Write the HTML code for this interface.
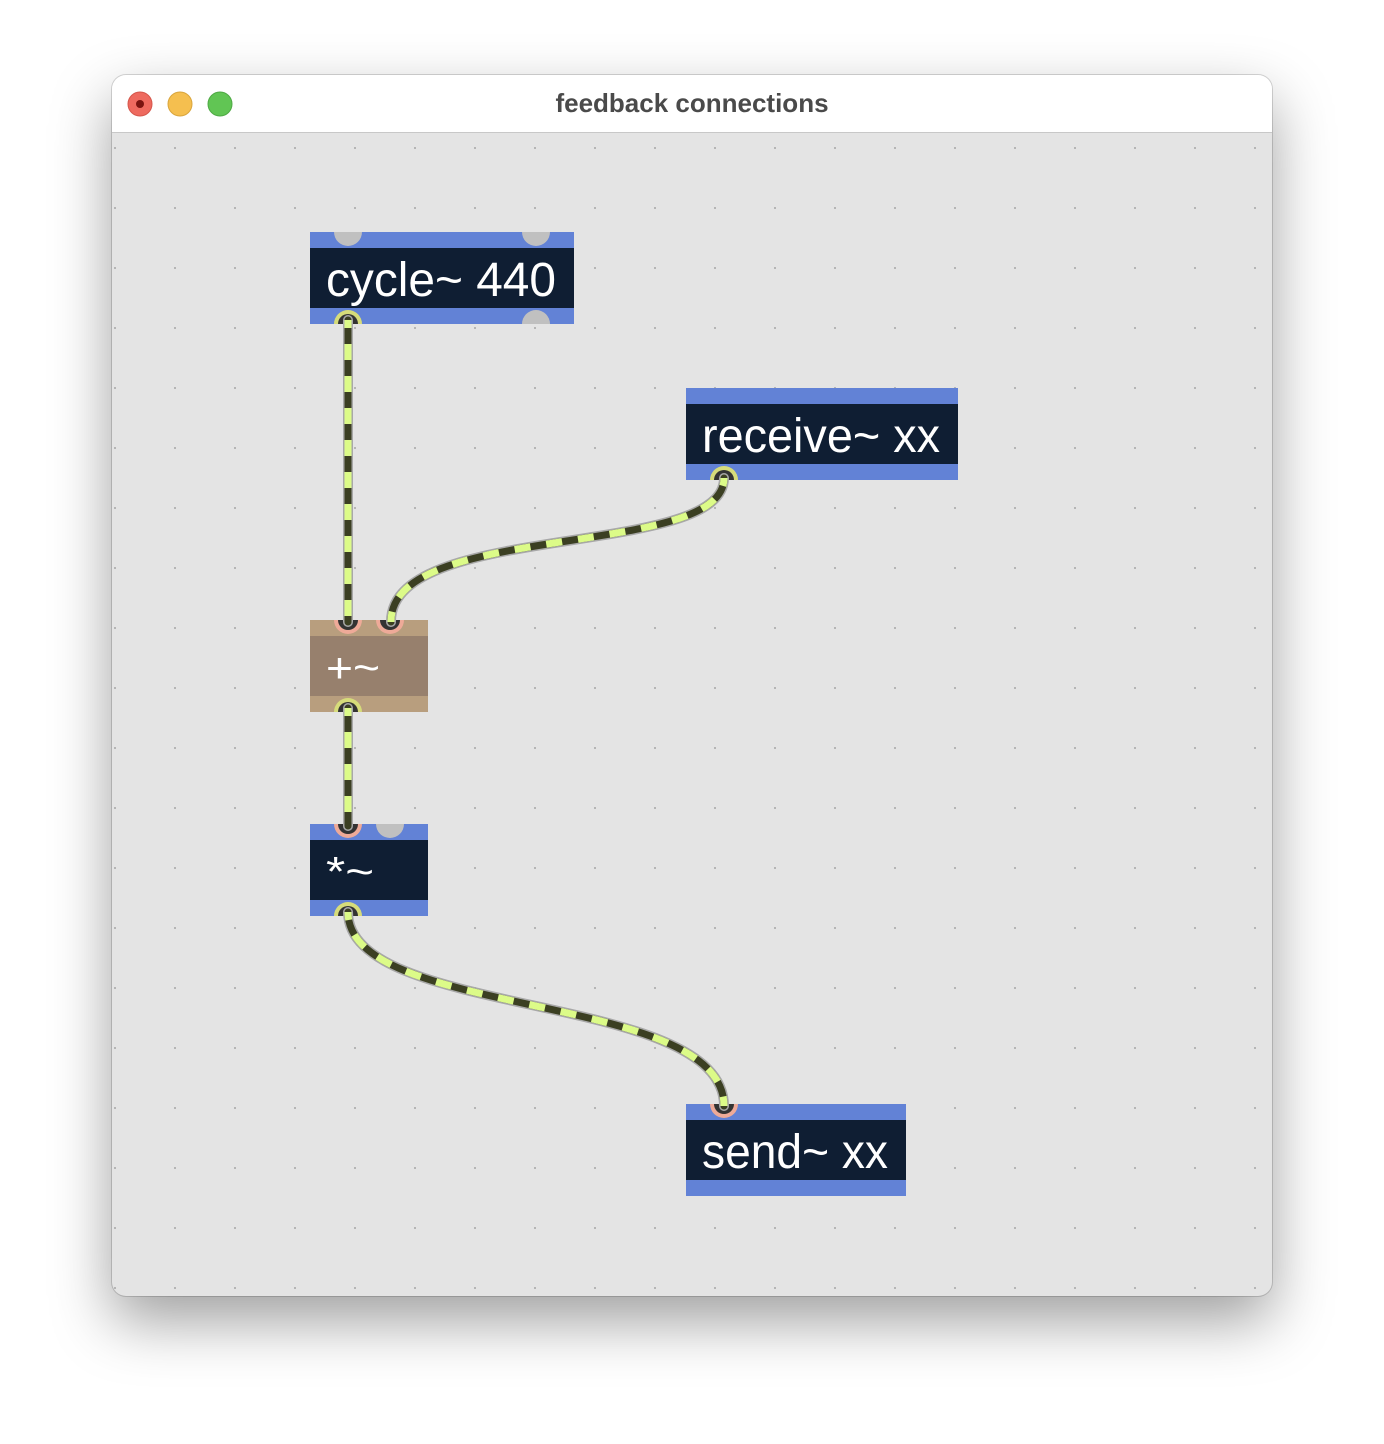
<!DOCTYPE html>
<html><head><style>
html,body{margin:0;padding:0;background:#fff;}
body{width:1384px;height:1444px;position:relative;overflow:hidden;font-family:"Liberation Sans",sans-serif;}
.win{position:absolute;left:112px;top:75px;width:1160px;height:1221px;border-radius:14px;overflow:hidden;background:#e4e4e4;box-shadow:0 25px 60px rgba(0,0,0,0.38),0 0 0 1px rgba(0,0,0,0.15);}
.title{position:absolute;left:0;top:0;width:100%;height:57px;background:#fff;border-bottom:1px solid #c8c8c8;text-align:center;line-height:56px;font-weight:bold;font-size:26px;color:#4a4a4a;}
</style></head><body>
<div class="win"><div class="title">feedback connections</div></div>
<svg width="1384" height="1444" style="position:absolute;left:0;top:0">
<defs>
<pattern id="g" x="114" y="147" width="60" height="60" patternUnits="userSpaceOnUse"><rect width="2" height="2" fill="#b5b5b5"/></pattern>
<clipPath id="c"><rect x="112" y="134" width="1160" height="1162"/></clipPath>
</defs>
<rect x="112" y="134" width="1160" height="1160" fill="url(#g)"/>
<circle cx="140" cy="104" r="12" fill="#ee6a5f" stroke="#d5564b"/><circle cx="140" cy="104" r="4" fill="#7a1410"/>
<circle cx="180" cy="104" r="12" fill="#f5bf4f" stroke="#d9a53c"/>
<circle cx="220" cy="104" r="12" fill="#61c554" stroke="#4ea944"/>
<g clip-path="url(#c)">
<rect x="310" y="232" width="264" height="92" fill="#6282d6"/>
<rect x="310" y="248" width="264" height="60" fill="#0f1e33"/>
<text x="326" y="296" font-size="48" fill="#fff" textLength="230" lengthAdjust="spacingAndGlyphs">cycle~ 440</text>
<rect x="686" y="388" width="272" height="92" fill="#6282d6"/>
<rect x="686" y="404" width="272" height="60" fill="#0f1e33"/>
<text x="702" y="452" font-size="48" fill="#fff" textLength="238" lengthAdjust="spacingAndGlyphs">receive~ xx</text>
<rect x="310" y="620" width="118" height="92" fill="#b89e7e"/>
<rect x="310" y="636" width="118" height="60" fill="#97806d"/>
<text x="326" y="682" font-size="42" fill="#fff" textLength="54" lengthAdjust="spacingAndGlyphs">+~</text>
<rect x="310" y="824" width="118" height="92" fill="#6282d6"/>
<rect x="310" y="840" width="118" height="60" fill="#0f1e33"/>
<text x="326" y="886" font-size="42" fill="#fff" textLength="48" lengthAdjust="spacingAndGlyphs">*~</text>
<rect x="686" y="1104" width="220" height="92" fill="#6282d6"/>
<rect x="686" y="1120" width="220" height="60" fill="#0f1e33"/>
<text x="702" y="1168" font-size="48" fill="#fff" textLength="186" lengthAdjust="spacingAndGlyphs">send~ xx</text>
<g>
<clipPath id="b1"><rect x="310" y="232" width="264" height="92"/></clipPath>
<clipPath id="b2"><rect x="686" y="388" width="272" height="92"/></clipPath>
<clipPath id="b3"><rect x="310" y="620" width="118" height="92"/></clipPath>
<clipPath id="b4"><rect x="310" y="824" width="118" height="92"/></clipPath>
<clipPath id="b5"><rect x="686" y="1104" width="220" height="92"/></clipPath>
<g clip-path="url(#b1)" fill="#c0c0c0">
<circle cx="348" cy="232" r="14"/><circle cx="536" cy="232" r="14"/><circle cx="536" cy="324" r="14"/>
<circle cx="348" cy="324" r="14" fill="#d6dc7a"/><circle cx="348" cy="324" r="10" fill="#333"/></g>
<g clip-path="url(#b2)"><circle cx="724" cy="480" r="14" fill="#d6dc7a"/><circle cx="724" cy="480" r="10" fill="#333"/></g>
<g clip-path="url(#b3)"><circle cx="348" cy="620" r="14" fill="#eeaa98"/><circle cx="348" cy="620" r="10" fill="#333"/>
<circle cx="390" cy="620" r="14" fill="#eeaa98"/><circle cx="390" cy="620" r="10" fill="#333"/>
<circle cx="348" cy="712" r="14" fill="#d6dc7a"/><circle cx="348" cy="712" r="10" fill="#333"/></g>
<g clip-path="url(#b4)"><circle cx="348" cy="824" r="14" fill="#eeaa98"/><circle cx="348" cy="824" r="10" fill="#333"/>
<circle cx="390" cy="824" r="14" fill="#c0c0c0"/>
<circle cx="348" cy="916" r="14" fill="#d6dc7a"/><circle cx="348" cy="916" r="10" fill="#333"/></g>
<g clip-path="url(#b5)"><circle cx="724" cy="1104" r="14" fill="#eeaa98"/><circle cx="724" cy="1104" r="10" fill="#333"/></g>
</g>
<g fill="none" stroke-linecap="round">
<g stroke="#a8a8a8" stroke-width="10">
<path d="M348,320 L348,622"/><path d="M724,478 C724,560 390,520 391,622"/>
<path d="M348,708 L348,826"/><path d="M348,912 C348,1020 724,990 724,1106"/></g>
<g stroke="#3b3f22" stroke-width="7">
<path d="M348,320 L348,622"/><path d="M724,478 C724,560 390,520 391,622"/>
<path d="M348,708 L348,826"/><path d="M348,912 C348,1020 724,990 724,1106"/></g>
<g stroke="#dcfb88" stroke-width="7" stroke-dasharray="16 16" stroke-linecap="butt">
<path d="M348,320 L348,622" stroke-dashoffset="8"/><path d="M724,478 C724,560 390,520 391,622" stroke-dashoffset="8"/>
<path d="M348,708 L348,826" stroke-dashoffset="8"/><path d="M348,912 C348,1020 724,990 724,1106" stroke-dashoffset="8"/></g>
</g>
</g>
</svg>
</body></html>
